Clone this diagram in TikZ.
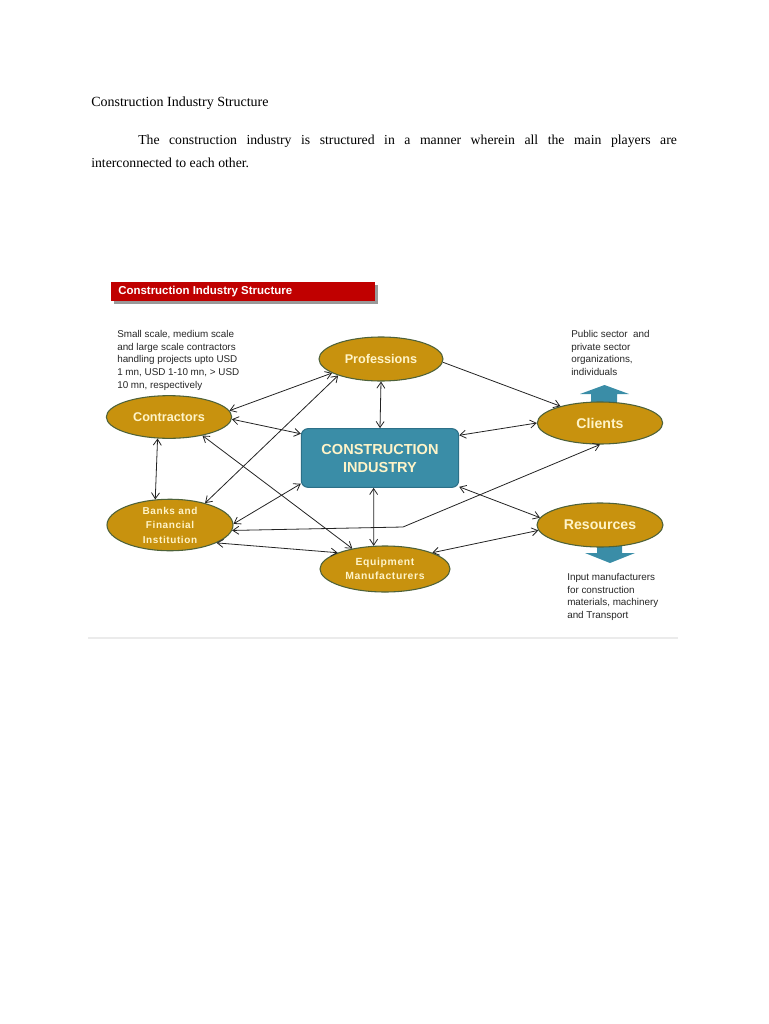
\documentclass[tikz,border=0pt]{standalone}
\usepackage{fontspec}
\setmainfont{Liberation Serif}
\setsansfont{Liberation Sans}
\newfontfamily\spacedsans[LetterSpace=6]{Liberation Sans}
\usepackage{tikz}
\usetikzlibrary{shapes.geometric, arrows.meta}
\definecolor{gold}{RGB}{200,146,14}
\definecolor{rim}{RGB}{78,98,58}
\definecolor{cream}{RGB}{255,244,200}
\definecolor{teal}{RGB}{58,141,167}
\definecolor{tealrim}{RGB}{44,112,136}
\definecolor{barred}{RGB}{192,0,0}
\definecolor{linkgray}{RGB}{35,35,35}

\begin{document}
\begin{tikzpicture}[x=0.75pt, y=-0.75pt]
        \tikzset{player/.style={ellipse, draw=rim, line width=0.8pt, fill=gold, inner sep=0pt, text=cream, font=\sffamily\bfseries\fontsize{9.5}{11}\selectfont, align=center}}
        \tikzset{tip/.tip={Straight Barb[length=4.5pt,width=6pt,line width=0.6pt]}}
        \tikzset{link/.style={tip-tip, line width=0.6pt, draw=linkgray}}
        \tikzset{note/.style={anchor=north west, align=left, inner sep=0pt, font=\sffamily\fontsize{7.4}{9.5}\selectfont, text=black!85}}
        \tikzset{blockarrow/.style={fill=teal, draw=none}}
        \useasboundingbox (0,0) rectangle (768,1024);
        % page text
        \node[anchor=base west, inner sep=0pt, font=\fontsize{10.5}{12}\selectfont] (heading) at (91,106) {Construction Industry Structure};
        \node[anchor=base west, inner sep=0pt, font=\fontsize{10.3}{12}\selectfont] (line1) at (138,144) {\makebox[404pt][s]{The construction industry is structured in a manner wherein all the main players are}};
        \node[anchor=base west, inner sep=0pt, font=\fontsize{10.3}{12}\selectfont] (line2) at (91,167) {interconnected to each other.};
        % title bar
        \fill[black!40] (114,285) rectangle (378,304);
        \fill[barred] (111,282) rectangle (375,301);
        \node[anchor=west, inner sep=0pt, text=white, font=\sffamily\bfseries\fontsize{8.6}{10}\selectfont] (bartitle) at (118,292) {Construction Industry Structure};
        % block arrows
        \fill[blockarrow] (591,404) -- (591,394) -- (580,394) -- (604.5,385) -- (629,394) -- (617,394) -- (617,404) -- cycle;
        \fill[blockarrow] (597,544) -- (597,553) -- (585,553) -- (610,563) -- (635,553) -- (622,553) -- (622,544) -- cycle;
        % players
        \node[player, minimum width=93pt, minimum height=33pt] (prof) at (381,359) {Professions};
        \node[player, minimum width=94pt, minimum height=32pt] (contr) at (169,417) {Contractors};
        \node[player, minimum width=94pt, minimum height=31.5pt, font=\sffamily\bfseries\fontsize{10.6}{12}\selectfont] (clients) at (600,423) {Clients};
        \node[player, minimum width=94.5pt, minimum height=33pt, font=\spacedsans\bfseries\fontsize{7.5}{10.9}\selectfont] (banks) at (170,525) {Banks and\\Financial\\Institution};
        \node[player, minimum width=97.5pt, minimum height=34.5pt, font=\spacedsans\bfseries\fontsize{7.8}{10.5}\selectfont] (equip) at (385,569) {Equipment\\Manufacturers};
        \node[player, minimum width=94.5pt, minimum height=33pt, font=\sffamily\bfseries\fontsize{10.6}{12}\selectfont] (res) at (600,525) {Resources};
        \node[rectangle, rounded corners=5pt, draw=tealrim, line width=0.8pt, fill=teal, text=cream, minimum width=118pt, minimum height=44pt, align=center, font=\sffamily\bfseries\fontsize{10.9}{13.5}\selectfont] (ci) at (380,458) {CONSTRUCTION\\INDUSTRY};
        % notes
        \node[note] (contrnote) at (117,330) {Small scale, medium scale\\and large scale contractors\\handling projects upto USD\\1 mn, USD 1-10 mn, > USD\\10 mn, respectively};
        \node[note] (clientsnote) at (571,330) {Public sector\ \ and\\private sector\\organizations,\\individuals};
        \node[note] (resnote) at (567,573) {Input manufacturers\\for construction\\materials, machinery\\and Transport};
        % links
        \coordinate (bend) at (403,527);
        \draw[link] (prof.196) -- (contr.6);
        \draw[link] (prof.201) -- (banks.32);
        \draw[link] (contr.-2) -- (ci.163);
        \draw[link] (contr.331) -- (equip.148);
        \draw[link] (contr.242) -- (banks.120);
        \draw[link] (prof.south) -- (ci.north);
        \draw[link, -tip] (prof.-3) -- (clients.157);
        \draw[link] (ci.16) -- (clients.west);
        \draw[link] (banks.1) -- (ci.198);
        \draw[link] (banks.-5) -- (bend) -- (clients.south);
        \draw[link] (banks.-21) -- (equip.161);
        \draw[link] (ci.258) -- (equip.116);
        \draw[link] (ci.-20) -- (res.173);
        \draw[link] (equip.19) -- (res.185);
        % frame edge
        \draw[black!8, line width=0.8pt] (88,638) -- (678,638);
    \end{tikzpicture}
\end{document}
